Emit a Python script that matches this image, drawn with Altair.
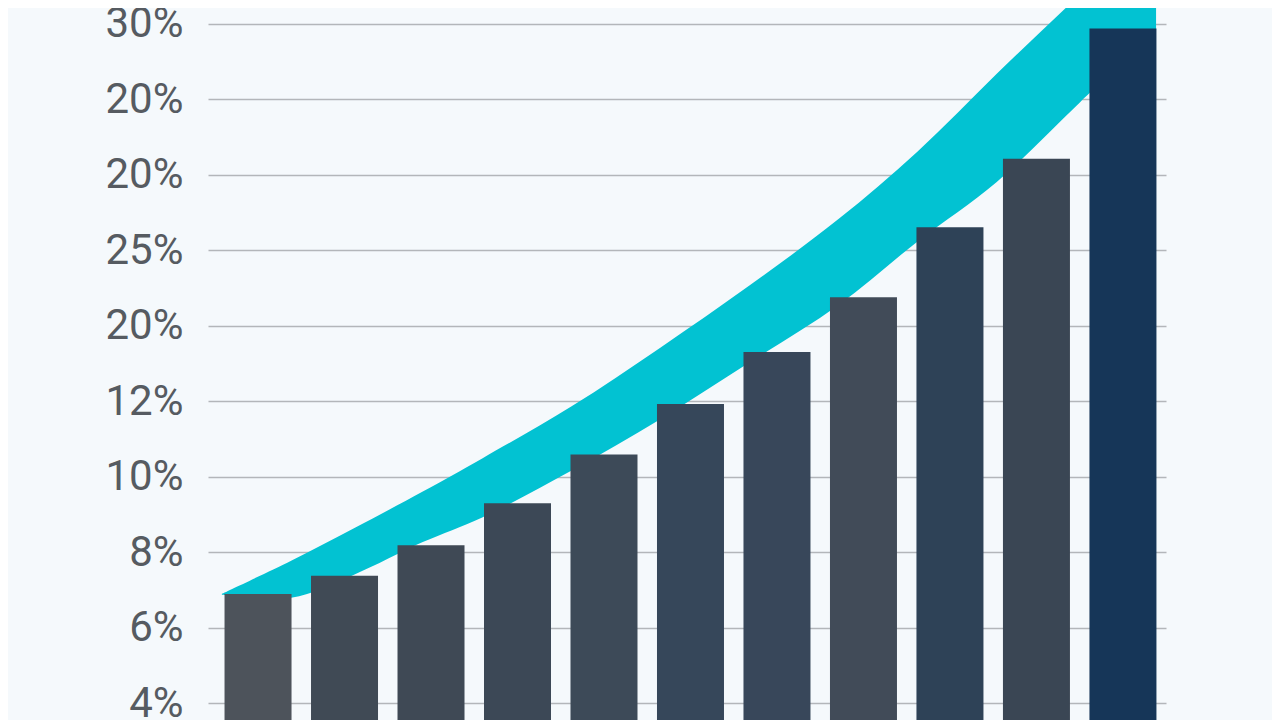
import altair as alt
import pandas as pd

# ---- data ----
categories = [f"B{i+1}" for i in range(11)]
bar_index = list(range(11))
bar_values = [6.89, 7.37, 8.18, 9.29, 10.58, 11.92, 13.30, 14.75, 16.60, 18.42, 21.87]
bar_colors = ["#4d535b", "#404a55", "#3f4955", "#3c4856", "#3d4a58", "#36475a",
              "#38475a", "#414b58", "#2e4257", "#3a4654", "#163658"]

tick_values = [4, 6, 8, 10, 12, 14, 16, 18, 20, 22]
tick_labels = ["4%", "6%", "8%", "10%", "12%", "20%", "25%", "20%", "20%", "30%"]

band_x = [-0.418, 0.383, 1.104, 1.905, 2.592, 3.621, 4.651, 5.681, 6.711, 7.626, 8.541, 9.502, 10.383]
band_upper = [6.893, 7.771, 8.623, 9.601, 10.479, 11.854, 13.414, 15.057, 16.819, 18.612, 20.671, 22.775, 24.80]
band_lower = [6.866, 6.787, 7.392, 8.262, 8.917, 10.153, 11.520, 13.019, 14.544, 16.227, 17.804, 19.908, 21.828]

bars_df = pd.DataFrame({"cat": categories, "i": bar_index, "v": bar_values})
band_df = pd.DataFrame({"x": band_x, "hi": band_upper, "lo": band_lower})

W, H = 958, 712
xscale = alt.Scale(domain=[-0.5206, 10.44], nice=False, zero=False)
yscale = alt.Scale(domain=[3.5497, 22.411], nice=False, zero=False)

label_expr = "[" + ",".join(f"'{t}'" for t in tick_labels) + "][round((datum.value-4)/2)]"

band = alt.Chart(band_df).mark_area(color="#02c2d2", interpolate="catmull-rom", clip=True).encode(
    x=alt.X("x:Q", scale=xscale, axis=None),
    y=alt.Y("hi:Q", scale=yscale,
            axis=alt.Axis(values=tick_values, labelExpr=label_expr, title=None,
                          grid=True, domain=False, ticks=False)),
    y2="lo:Q",
)

bars = alt.Chart(bars_df).mark_bar(size=67, clip=True).encode(
    x=alt.X("i:Q", scale=xscale, axis=None),
    y=alt.Y("v:Q", scale=yscale),
    y2=alt.value(H),
    color=alt.Color("cat:N", scale=alt.Scale(domain=categories, range=bar_colors), legend=None),
)

chart = alt.layer(band, bars).properties(
    width=W, height=H,
    autosize="none",
    padding={"left": 200, "top": 0, "right": 106, "bottom": 0},
    background="#f5f9fc",
).configure_view(stroke=None).configure_axis(
    labelFont="Roboto", labelFontSize=42, labelColor="#565b61",
    labelPadding=25, gridColor="#b3b6ba", gridWidth=1.5,
)

chart.save("out.html", embed_options={"renderer": "svg", "actions": False})
